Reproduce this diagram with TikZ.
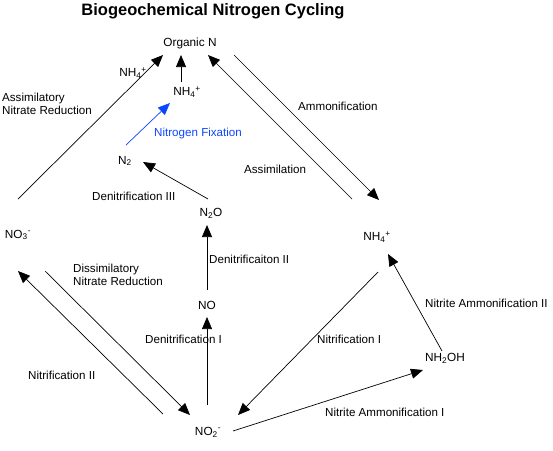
\documentclass[tikz,border=0pt]{standalone}
\usepackage{fontspec}
\setmainfont{Liberation Sans}
\usetikzlibrary{arrows.meta}
\definecolor{fixblue}{RGB}{10,70,255}
\newcommand{\ammonium}{NH\textsubscript{4}\textsuperscript{+}}

\begin{document}
\begin{tikzpicture}[
        x=1pt, y=-1pt,
        species/.style={inner sep=0pt, font=\fontsize{11.8}{13}\selectfont},
        process/.style={inner sep=0pt, anchor=west, align=left, font=\fontsize{11.6}{13.5}\selectfont},
        flow/.style={-{Triangle[length=12pt,width=10pt]}, line width=0.7pt}
    ]
        \useasboundingbox (0,0) rectangle (553,450);
        \node[font=\fontsize{16.5}{18}\selectfont\bfseries] (title) at (213,11) {Biogeochemical Nitrogen Cycling};

        % species
        \node[species] (orgn) at (190,43) {Organic N};
        \node[species] (nh4a) at (133,73) {\ammonium};
        \node[species] (nh4b) at (187,92) {\ammonium};
        \node[species] (n2) at (125,161) {N\textsubscript{2}};
        \node[species] (n2o) at (211,213) {N\textsubscript{2}O};
        \node[species] (no3) at (18,235) {NO\textsubscript{3}\textsuperscript{-}};
        \node[species] (nh4c) at (377,237) {\ammonium};
        \node[species] (no) at (207,305) {NO};
        \node[species] (nh2oh) at (445,358) {NH\textsubscript{2}OH};
        \node[species] (no2) at (208,432) {NO\textsubscript{2}\textsuperscript{-}};

        % arrow ends
        \coordinate (asr-s) at (18,199);   \coordinate (asr-e) at (163,55);
        \coordinate (up-s) at (181,82);    \coordinate (up-e) at (181,55);
        \coordinate (fix-s) at (126,145);  \coordinate (fix-e) at (170,103);
        \coordinate (den3-s) at (208,199); \coordinate (den3-e) at (143,162);
        \coordinate (ass-s) at (352,199);  \coordinate (ass-e) at (208,55);
        \coordinate (amm-s) at (234,55);   \coordinate (amm-e) at (379,200);
        \coordinate (nit2-s) at (163,414); \coordinate (nit2-e) at (18,271);
        \coordinate (dnr-s) at (45,271);   \coordinate (dnr-e) at (190,415);
        \coordinate (den2-s) at (207,290); \coordinate (den2-e) at (207,225);
        \coordinate (den1-s) at (207,405); \coordinate (den1-e) at (207,317);
        \coordinate (nit1-s) at (378,272); \coordinate (nit1-e) at (238,415);
        \coordinate (nam1-s) at (233,431); \coordinate (nam1-e) at (423,370);
        \coordinate (nam2-s) at (442,351); \coordinate (nam2-e) at (388,254);

        \draw[flow] (asr-s) -- (asr-e);
        \draw[flow] (up-s) -- (up-e);
        \draw[flow, fixblue] (fix-s) -- (fix-e);
        \draw[flow] (den3-s) -- (den3-e);
        \draw[flow] (ass-s) -- (ass-e);
        \draw[flow] (amm-s) -- (amm-e);
        \draw[flow] (nit2-s) -- (nit2-e);
        \draw[flow] (dnr-s) -- (dnr-e);
        \draw[flow] (den2-s) -- (den2-e);
        \draw[flow] (den1-s) -- (den1-e);
        \draw[flow] (nit1-s) -- (nit1-e);
        \draw[flow] (nam1-s) -- (nam1-e);
        \draw[flow] (nam2-s) -- (nam2-e);

        % process labels
        \node[process] (asrlabel) at (2,104) {Assimilatory\\Nitrate Reduction};
        \node[process, text=fixblue] (fixlabel) at (154,133) {Nitrogen Fixation};
        \node[process] (den3label) at (92,196) {Denitrification III};
        \node[process] (ammlabel) at (298,106) {Ammonification};
        \node[process] (asslabel) at (244,169) {Assimilation};
        \node[process] (dnrlabel) at (73,275) {Dissimilatory\\Nitrate Reduction};
        \node[process] (den2label) at (209,259) {Denitrificaiton II};
        \node[process] (den1label) at (145,339) {Denitrification I};
        \node[process] (nit2label) at (28,375) {Nitrification II};
        \node[process] (nit1label) at (317,339) {Nitrification I};
        \node[process] (nam2label) at (425,303) {Nitrite Ammonification II};
        \node[process] (nam1label) at (325,412) {Nitrite Ammonification I};
    \end{tikzpicture}
\end{document}
